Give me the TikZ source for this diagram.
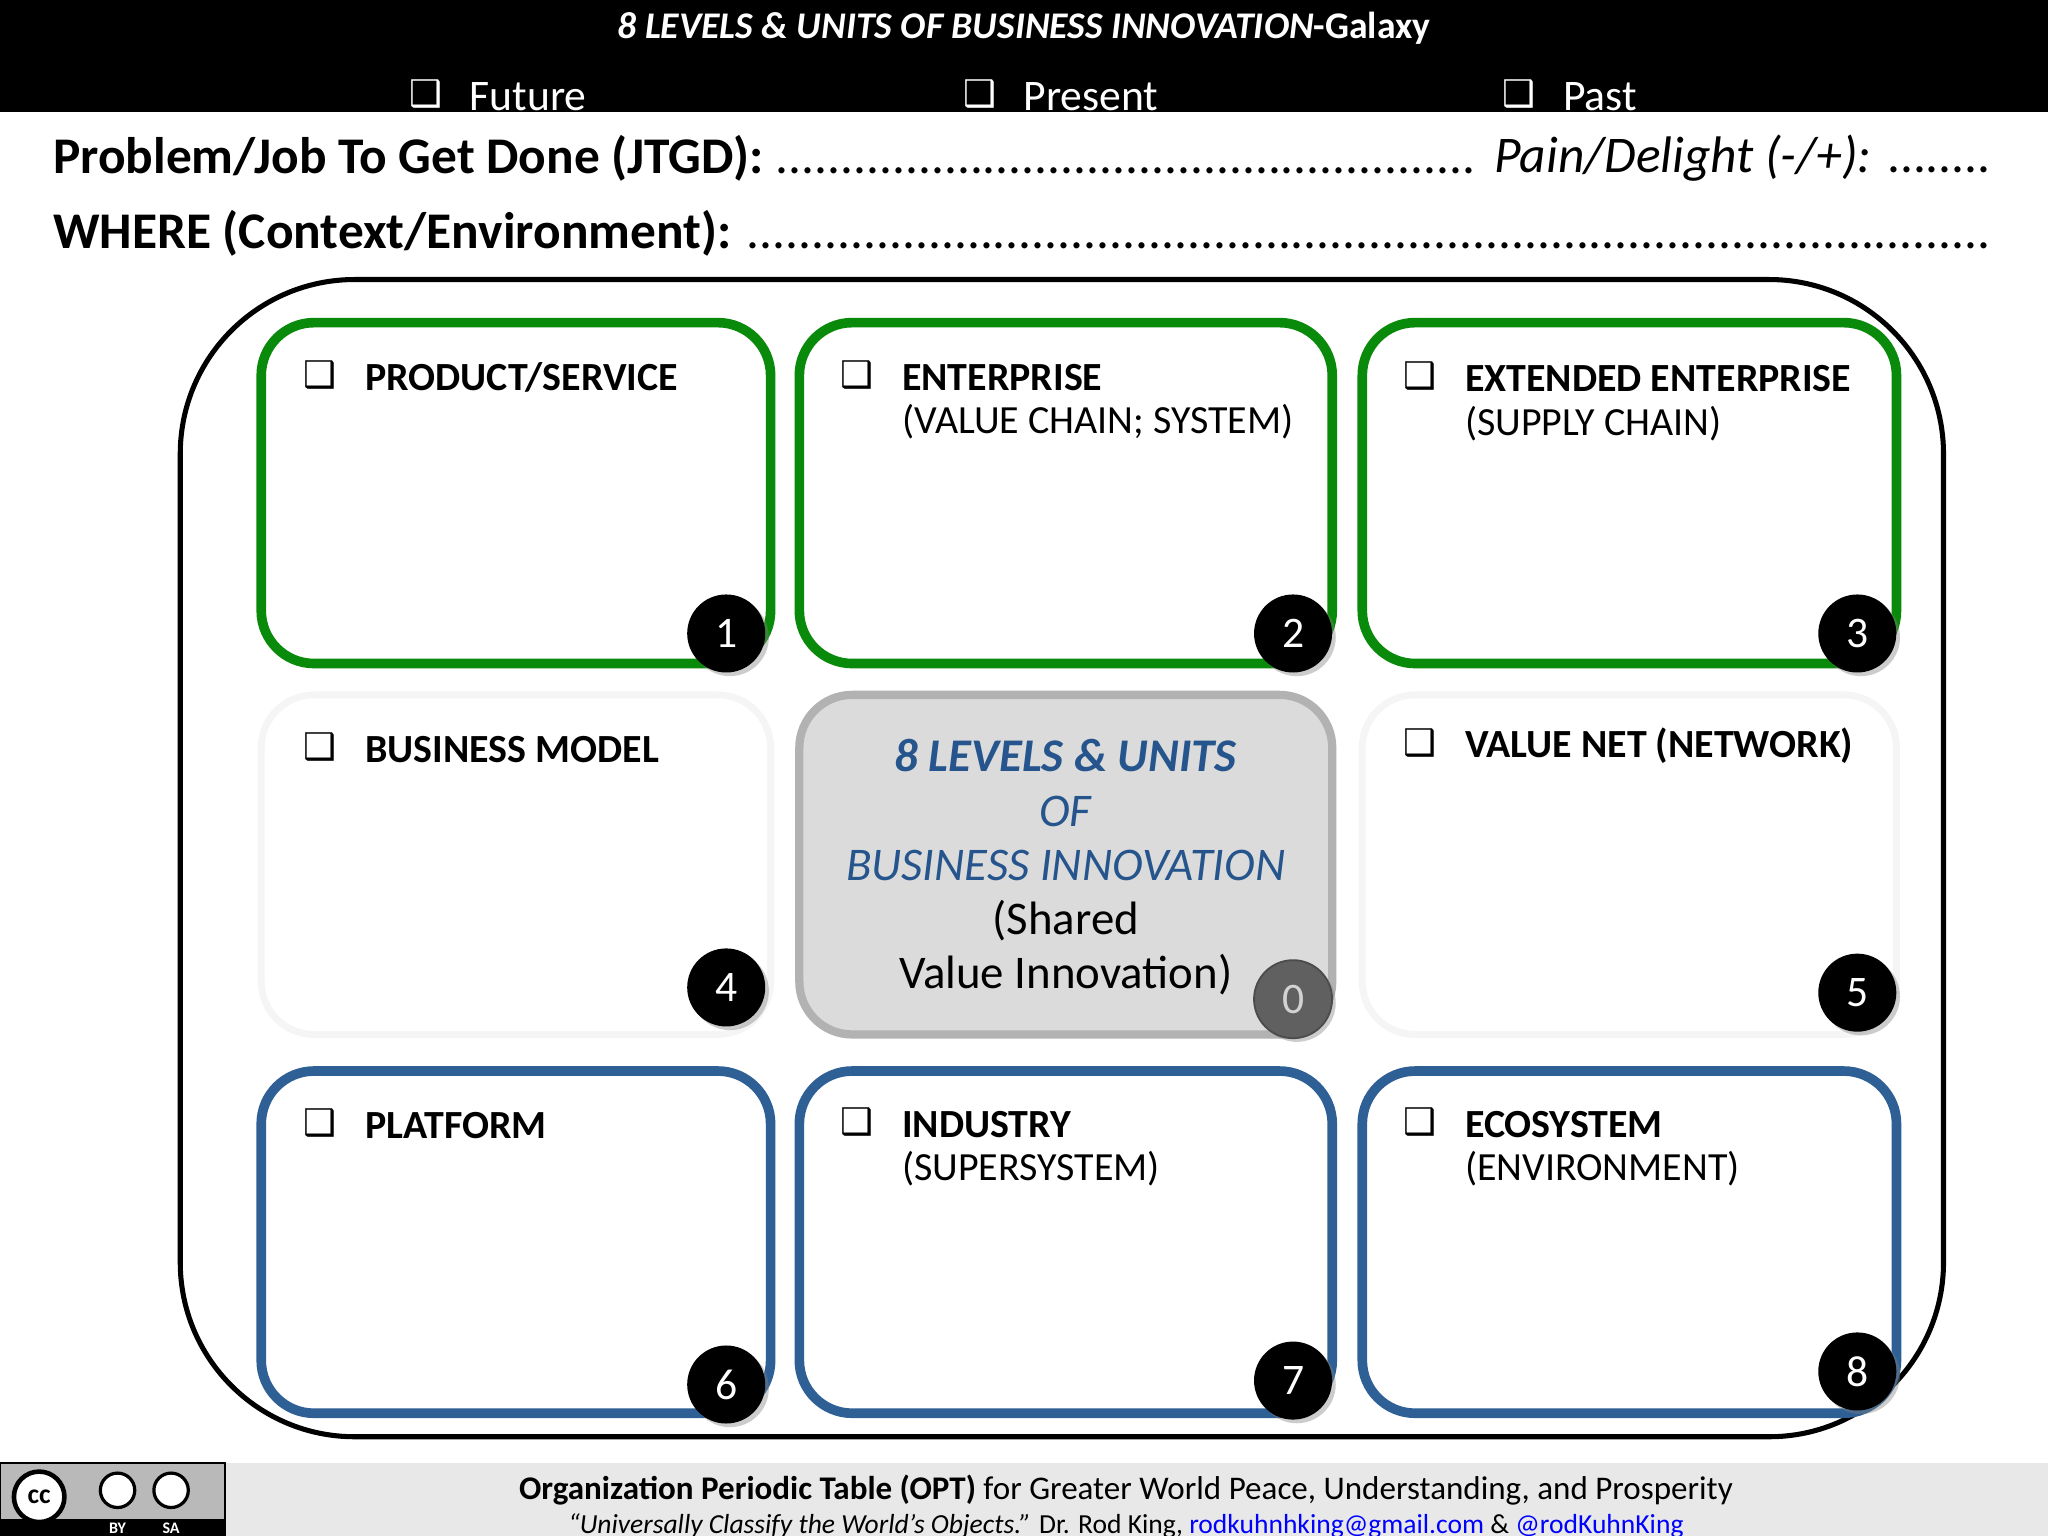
\documentclass[tikz,border=0pt]{standalone}
\usepackage{fontspec}
\setmainfont{Carlito}
\newfontfamily\dejavu{DejaVu Sans}
\usetikzlibrary{shadows}
\definecolor{grn}{HTML}{0A8A0A}
\definecolor{blu}{HTML}{2E5F95}
\definecolor{ctr}{HTML}{25558C}
\newcommand{\cbx}{{\dejavu\bfseries ❑}}
\newcommand{\mydots}[1]{\foreach \i in {1,...,#1}{.}}
\begin{document}
\begin{tikzpicture}[x=0.1mm,y=-0.1mm,
 box/.style={rounded corners=11.5pt,line width=2.1pt},
 num/.style={circle,fill=black,text=white,minimum size=17pt,inner sep=0,font=\fontsize{9.5}{10}\selectfont,drop shadow={opacity=0.4,shadow xshift=0.8pt,shadow yshift=-0.8pt}},
 lab/.style={anchor=west,font=\fontsize{8.7}{10}\selectfont\bfseries},
 sub/.style={anchor=west,font=\fontsize{8.7}{10}\selectfont},
 cb/.style={anchor=west,font=\fontsize{8}{10}\selectfont}]
\useasboundingbox (0,0) rectangle (1568,1176);
\fill[white] (0,0) rectangle (1568,1176);
\fill[black] (0,0) rectangle (1568,86);
\node[text=white,font=\fontsize{8.2}{10}\selectfont] (title) at (784,22) {\textbf{\textit{8 LEVELS \& UNITS OF BUSINESS INNOVATION}}\textbf{-Galaxy}};
\foreach \x/\t/\n in {313/Future/f,737/Present/p,1150/Past/q}{
 \node[cb,text=white,inner sep=0] (c\n) at (\x,72) {\cbx};
 \node[anchor=west,text=white,font=\fontsize{9.5}{10}\selectfont,inner sep=0] (t\n) at (\x+46,74) {\t};}
\node[anchor=west,inner sep=0,font=\fontsize{11.2}{12}\selectfont] (jtgd) at (40,121) {\textbf{Problem/Job To Get Done (JTGD):} ......................................................};
\node[anchor=east,inner sep=0,font=\fontsize{11.2}{12}\selectfont] (pain) at (1525,121) {\textit{Pain/Delight (-/+):} ........};
\node[anchor=west,inner sep=0,font=\fontsize{11.2}{12}\selectfont] (where) at (40,179) {\textbf{WHERE (Context/Environment):} ................................................................................................};
\draw[line width=1.1pt,rounded corners=38pt] (138,214) rectangle (1488,1100);
% boxes
\draw[box,grn] (200,247) rectangle (590,508);
\draw[box,grn] (612,247) rectangle (1020,508);
\draw[box,grn] (1043,247) rectangle (1452,508);
\draw[box,gray!8,line width=1.5pt] (200,532) rectangle (590,792);
\draw[box,gray!8,line width=1.5pt] (1043,532) rectangle (1452,792);
\draw[box,gray!60,fill=gray!28,line width=1.8pt] (612,532) rectangle (1020,792);
\draw[box,blu] (200,820) rectangle (590,1082);
\draw[box,blu] (612,820) rectangle (1020,1082);
\draw[box,blu] (1043,820) rectangle (1452,1082);
% labels
\foreach \x/\y/\a/\b/\n in {232/289/{PRODUCT/SERVICE}//a,643/289/ENTERPRISE/(VALUE CHAIN; SYSTEM)/b,1074/290/EXTENDED ENTERPRISE/(SUPPLY CHAIN)/c,232/574/BUSINESS MODEL//d,1074/571/VALUE NET (NETWORK)//e,232/862/PLATFORM//f,643/861/INDUSTRY/(SUPERSYSTEM)/g,1074/861/ECOSYSTEM/(ENVIRONMENT)/h}{
 \node[cb,inner sep=0] (k\n) at (\x,\y-2) {\cbx};
 \node[lab,inner sep=0] (l\n) at (\x+47,\y) {\a};
 \node[sub,inner sep=0] (s\n) at (\x+47,\y+34) {\b};}
\node[align=center,font=\fontsize{10.2}{11.8}\selectfont,inner sep=0] (center) at (816,664) {\textcolor{ctr}{\textbf{\textit{8 LEVELS \& UNITS}}}\\\textcolor{ctr}{\textit{OF}}\\\textcolor{ctr}{\textit{BUSINESS INNOVATION}}\\(Shared\\Value Innovation)};
\foreach \x/\y/\t in {556/485/1,990/485/2,1422/485/3,556/756/4,1422/760/5,556/1060/6,990/1057/7,1422/1050/8}{
 \node[num] (n\t) at (\x,\y) {\t};}
\node[num,fill=gray!75!black,text=gray!35,draw=black!70,line width=0.4pt] (n0) at (990,765) {0};
% footer
\fill[gray!18] (0,1120) rectangle (1568,1176);
\draw[fill=gray!55,draw=black,line width=0.5pt] (0,1120) rectangle (172,1176);
\fill[black] (0,1163) rectangle (172,1176);
\node[circle,draw=black,fill=white,line width=1pt,minimum size=11pt,inner sep=0,font=\fontsize{6}{7}\selectfont\bfseries] (cc) at (30,1146) {cc};
\node[circle,draw=black,fill=white,line width=0.7pt,minimum size=7.5pt,inner sep=0] (by) at (90,1141) {};
\node[circle,draw=black,fill=white,line width=0.7pt,minimum size=7.5pt,inner sep=0] (sa) at (131,1141) {};
\node[text=white,font=\fontsize{3.5}{4}\selectfont\bfseries,inner sep=0] (byt) at (90,1170) {BY};
\node[text=white,font=\fontsize{3.5}{4}\selectfont\bfseries,inner sep=0] (sat) at (131,1170) {SA};
\node[font=\fontsize{7.2}{8}\selectfont,inner sep=0] (f1) at (862,1141) {\textbf{Organization Periodic Table (OPT)} for Greater World Peace, Understanding, and Prosperity};
\node[font=\fontsize{6}{7}\selectfont,inner sep=0] (f2) at (862,1168) {\textit{``Universally Classify the World's Objects.''} Dr. Rod King, \textcolor{blue}{rodkuhnhking@gmail.com} \& \textcolor{blue}{@rodKuhnKing}};
\end{tikzpicture}
\end{document}
